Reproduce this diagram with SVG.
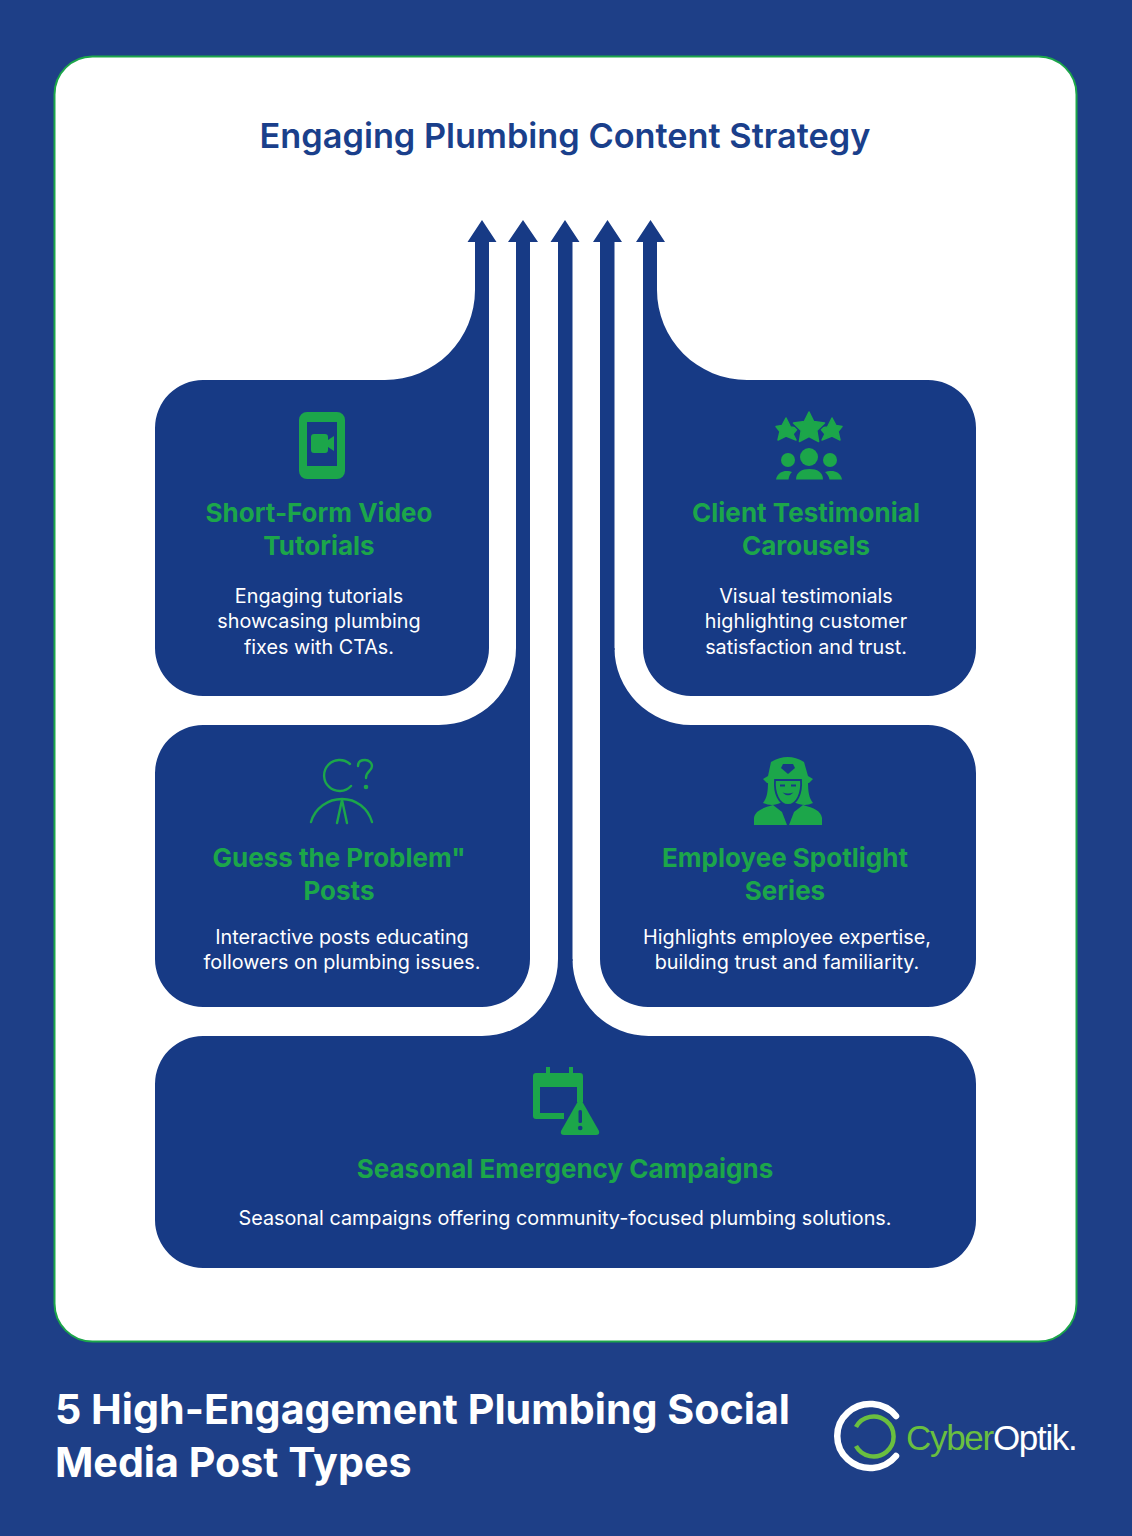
<svg xmlns="http://www.w3.org/2000/svg" width="1132" height="1536" viewBox="0 0 1132 1536">
<style>
.bg{fill:#1e3f87}
.s{fill:#173a85}
.g{fill:#1ca64a}
.n{fill:#173a85}
.ln{fill:none;stroke:#1ca64a;stroke-width:2.4;stroke-linecap:round}
text{font-family:Inter,"Liberation Sans",sans-serif;text-anchor:middle}
.h{font-size:26px;font-weight:650;fill:#1ca64a}
.b{font-size:19.800px;font-weight:400;fill:#fff}
.t{font-size:34.300px;font-weight:600;fill:#1a3f8b}
.f{font-size:41.200px;font-weight:700;fill:#fff;text-anchor:start}
</style>
<rect class="bg" width="1132" height="1536"/>
<rect x="54.500" y="56.500" width="1022" height="1285" rx="38" fill="#fff" stroke="#1ca64a" stroke-width="2"/>
<text id="title" class="t" x="565" y="148">Engaging Plumbing Content Strategy</text>

<g id="connectors" class="s">
<path d="M475,292V242H467.500L482,220L496.500,242H489V292Z"/>
<path d="M516,650V242H508L523,220L538,242H530V650Z"/>
<path d="M558,961V242H550.500L565,220L579.500,242H572.500V961Z"/>
<path d="M600,650V242H593L607.500,220L622,242H614.500V650Z"/>
<path d="M643,292V242H636L650.500,220L665,242H657V292Z"/>
</g>

<g id="node-video">
<path class="s" d="M203,380H385A90,90 0 0 0 475,290H489V648A48,48 0 0 1 441,696H203A48,48 0 0 1 155,648V428A48,48 0 0 1 203,380Z"/>
<path class="g" fill-rule="evenodd" d="M307,412H337A8,8 0 0 1 345,420V471A8,8 0 0 1 337,479H307A8,8 0 0 1 299,471V420A8,8 0 0 1 307,412ZM307,422V466H337V422Z"/>
<path class="g" d="M314,434H325A3,3 0 0 1 328,437V440L334,436V451L328,447V450A3,3 0 0 1 325,453H314A3,3 0 0 1 311,450V437A3,3 0 0 1 314,434Z"/>
<text class="h" x="319" y="522">Short-Form Video</text>
<text class="h" x="319" y="555">Tutorials</text>
<text class="b" x="319" y="603">Engaging tutorials</text>
<text class="b" x="319" y="628">showcasing plumbing</text>
<text class="b" x="319" y="654">fixes with CTAs.</text>
</g>

<g id="node-testimonial">
<path class="s" d="M928,380H747A90,90 0 0 1 657,290H643V648A48,48 0 0 0 691,696H928A48,48 0 0 0 976,648V428A48,48 0 0 0 928,380Z"/>
<g class="g" stroke="#1ca64a" stroke-width="1.500" stroke-linejoin="round">
<path d="M786,418L790.500,427L798,428L793,434L796,440L786,436L778,440L780,431.500L776,426.500L782,425.500Z"/>
<path d="M832,418L836,425.500L842,426.500L838,431.500L840,440L832,436L822,440L825,434L820,428L827.500,427Z"/>
</g>
<path class="g" stroke="#173a85" stroke-width="4" stroke-linejoin="round" d="M809,412L813.700,421.500L824.500,423L816.800,430.500L818.600,441.500L809,436.500L799.400,441.500L801.200,430.500L793.500,423L804.300,421.500Z"/>
<path class="g" stroke="#1ca64a" stroke-width="1.500" stroke-linejoin="round" d="M809,412L813.700,421.500L824.500,423L816.800,430.500L818.600,441.500L809,436.500L799.400,441.500L801.200,430.500L793.500,423L804.300,421.500Z"/>
<circle class="g" cx="788" cy="460" r="7"/><circle class="g" cx="809" cy="457" r="9"/><circle class="g" cx="830" cy="460" r="7"/>
<path class="g" d="M796,479.500C796,472 802,469 809.500,469C817,469 823,472 823,479.500Z"/>
<path class="g" d="M776,479.500C777,473 783,471 786,471C789,471 791,471.500 792,472C790,474 789,476 788.500,479.500Z"/>
<path class="g" d="M842,479.500C841,473 835,471 832,471C829,471 826,471.500 825,472C827,474 829,476 829.500,479.500Z"/>
<text class="h" x="806" y="522" textLength="228" lengthAdjust="spacing">Client Testimonial</text>
<text class="h" x="806" y="555">Carousels</text>
<text class="b" x="806" y="603">Visual testimonials</text>
<text class="b" x="806" y="628">highlighting customer</text>
<text class="b" x="806" y="654">satisfaction and trust.</text>
</g>

<g id="node-guess">
<path class="s" d="M203,725H439A77,77 0 0 0 516,648H530V959A48,48 0 0 1 482,1007H203A48,48 0 0 1 155,959V773A48,48 0 0 1 203,725Z"/>
<path class="ln" d="M350,764A15.500,15.500 0 1 0 351,786"/>
<path class="ln" d="M358,766C358,761 362,760 365,760C369,760 372,763 372,766C372,771 366,771 366,778"/>
<circle class="g" cx="366" cy="787" r="2.300"/>
<path class="ln" d="M311,822C315,808 328,799 342,799C356,799 368,808 372,822"/>
<path class="ln" d="M337,823L342,800L347,823"/>
<text class="h" x="339" y="867">Guess the Problem"</text>
<text class="h" x="339" y="900">Posts</text>
<text class="b" x="342" y="944">Interactive posts educating</text>
<text class="b" x="342" y="969">followers on plumbing issues.</text>
</g>

<g id="node-employee">
<path class="s" d="M928,725H691A77,77 0 0 1 614.500,648H600V959A48,48 0 0 0 648,1007H928A48,48 0 0 0 976,959V773A48,48 0 0 0 928,725Z"/>
<path class="g" d="M771,762Q788,752 804,762L808,776L813,779L809,783H767L763,779L768,776Z"/>
<path class="g" d="M768,781C768,792 767,798 763,803C770,806 776,805 780,803H796C800,805 807,806 813,803C809,798 808,792 808,781Z"/>
<path class="n" d="M783,764H793L795,768L788,774L781,768Z"/>
<path class="g" stroke="#173a85" stroke-width="1.800" d="M775,780H801C802,793 797,805 788,805C779,805 774,793 775,780Z"/>
<path class="n" d="M780,784.500H785V786.500H780ZM791,784.500H796V786.500H791Z"/>
<path class="n" d="M782.500,792.500Q788,798 793.500,792.500Q788,794.500 782.500,792.500Z"/>
<path class="g" d="M754,825V818C755,811 762,808 773,805L782,812L787,825ZM822,825V818C821,811 814,808 803,805L794,812L789,825Z"/>
<text class="h" x="785" y="867">Employee Spotlight</text>
<text class="h" x="785" y="900">Series</text>
<text class="b" x="787" y="944">Highlights employee expertise,</text>
<text class="b" x="787" y="969">building trust and familiarity.</text>
</g>

<g id="node-seasonal">
<path class="s" d="M203,1036H482A76,77 0 0 0 558,959H572.500A76,77 0 0 0 649,1036H928A48,48 0 0 1 976,1084V1220A48,48 0 0 1 928,1268H203A48,48 0 0 1 155,1220V1084A48,48 0 0 1 203,1036Z"/>
<path class="g" fill-rule="evenodd" d="M536,1073H546V1067H550V1073H569V1067H573V1073H580A3,3 0 0 1 583,1076V1102H577V1087H540V1113H564V1119H536A3,3 0 0 1 533,1116V1076A3,3 0 0 1 536,1073Z"/>
<path class="g" d="M577.500,1102Q580,1098 582.500,1102L599,1131Q600,1135 596,1135H564Q560,1135 561,1131Z"/>
<rect class="n" x="578.500" y="1110" width="3.500" height="13" rx="1.500"/><circle class="n" cx="580.200" cy="1128" r="2.300"/>
<text class="h" x="565" y="1178">Seasonal Emergency Campaigns</text>
<text class="b" x="565" y="1225">Seasonal campaigns offering community-focused plumbing solutions.</text>
</g>

<text id="footer-1" class="f" x="55" y="1424">5 High-Engagement Plumbing Social</text>
<text id="footer-2" class="f" x="55" y="1477">Media Post Types</text>

<g id="logo">
<path d="M896,1416A33,32 0 1 0 896,1456" fill="none" stroke="#fff" stroke-width="6.500" stroke-linecap="round"/>
<path d="M856,1427A20,20 0 1 1 856,1446" fill="none" stroke="#6abf3f" stroke-width="4.500"/>
<text x="906" y="1450" style="font-family:'Liberation Sans',sans-serif;font-size:35px;text-anchor:start;letter-spacing:-1.300px"><tspan fill="#6abf3f">Cyber</tspan><tspan fill="#fff">Optik.</tspan></text>
</g>
</svg>
